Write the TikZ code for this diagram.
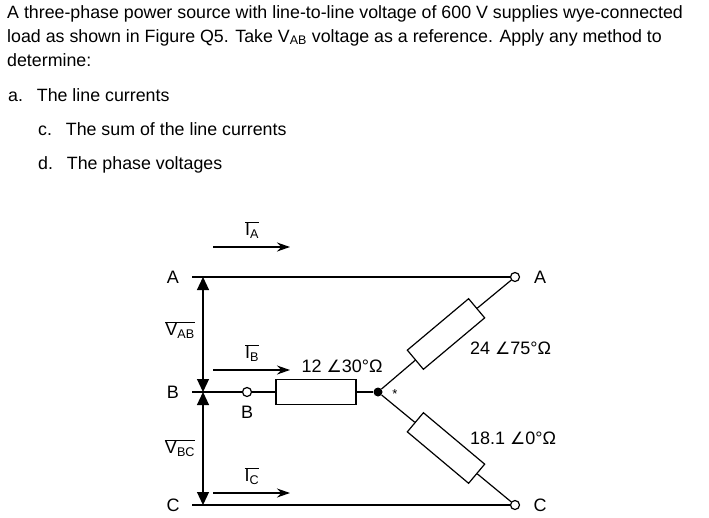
\documentclass[tikz,border=0pt]{standalone}
\usepackage{fontspec}
\setmainfont{Liberation Sans}
\newfontfamily\symfont{DejaVu Sans}
\usetikzlibrary{arrows.meta}
\newcommand{\phs}[2]{$\overline{\hbox{#1\textsubscript{#2}}}$}
\newcommand{\ang}{{\symfont\fontsize{17}{20}\selectfont ∠}}
\begin{document}
\begin{tikzpicture}[x=1pt,y=-1pt,
  txt/.style={anchor=base west,inner sep=0pt,font=\fontsize{17.8}{20}\selectfont},
  lbl/.style={inner sep=0pt,font=\fontsize{18}{20}\selectfont},
  res/.style={draw,line width=1.2pt,fill=white,minimum width=80pt,minimum height=25pt,inner sep=0pt},
  term/.style={circle,draw,line width=1.2pt,fill=white,inner sep=0pt,minimum size=9pt},
  cur/.style={-{Stealth[length=13pt,width=9pt]},line width=1.4pt},
  volt/.style={{Triangle[length=13pt,width=12pt]}-{Triangle[length=13pt,width=12pt]},line width=1.2pt}]
\useasboundingbox (0,0) rectangle (709,517);
% problem text
\node[txt] (t1) at (7,18) {A three-phase power source with line-to-line voltage of 600 V supplies wye-connected};
\node[txt] (t2) at (7,42) {load as shown in Figure Q5. Take V\textsubscript{AB} voltage as a reference. Apply any method to};
\node[txt] (t3) at (7,66) {determine:};
\node[txt] (qa) at (8,101) {a.\enspace\ The line currents};
\node[txt] (qc) at (38,135) {c.\enspace\ The sum of the line currents};
\node[txt] (qd) at (38,169) {d.\enspace\ The phase voltages};
% circuit
\coordinate (a0) at (192,277);
\coordinate (b0) at (192,392);
\coordinate (c0) at (192,505);
\coordinate (va) at (203,277);
\coordinate (vb) at (203,392);
\coordinate (vc) at (203,505);
\node[term] (tA) at (515,277) {};
\node[term] (tB) at (247,392) {};
\node[term] (tC) at (515,505) {};
\node[circle,fill,inner sep=0pt,minimum size=9pt] (n) at (378,392) {};
\node[res] (zB) at (316,392) {};
\node[res,rotate=40] (zA) at (446,334) {};
\node[res,rotate=-40] (zC) at (446,448) {};
\draw[line width=1.2pt] (a0) -- (tA);
\draw[line width=1.2pt] (c0) -- (tC);
\draw[line width=1.2pt] (b0) -- (tB) -- (zB) -- (n);
\draw[line width=1.2pt] (n) -- (zA) -- (tA);
\draw[line width=1.2pt] (n) -- (zC) -- (tC);
\draw[volt] (va) -- (vb);
\draw[volt] (vb) -- (vc);
\node[lbl] (lA) at (173,277) {A};
\node[lbl] (lB) at (173,392) {B};
\node[lbl] (lC) at (173,505) {C};
\node[lbl] (rA) at (540,277) {A};
\node[lbl] (rB) at (247,412) {B};
\node[lbl] (rC) at (540,505) {C};
\node[lbl,font=\fontsize{13}{14}\selectfont] (star) at (395,394) {*};
\node[lbl] (zBl) at (342,366) {12 \ang30°Ω};
\node[lbl,anchor=west] (zAl) at (470,348) {24 \ang75°Ω};
\node[lbl,anchor=west] (zCl) at (470,438) {18.1 \ang0°Ω};
\node[lbl] (vab) at (180,330) {\phs{V}{AB}};
\node[lbl] (vbc) at (180,448) {\phs{V}{BC}};
\coordinate (ia1) at (213,247); \coordinate (ia2) at (290,247);
\coordinate (ib1) at (213,370); \coordinate (ib2) at (290,370);
\coordinate (ic1) at (213,493); \coordinate (ic2) at (290,493);
\draw[cur] (ia1) -- (ia2);
\draw[cur] (ib1) -- (ib2);
\draw[cur] (ic1) -- (ic2);
\node[lbl] (iA) at (252,230) {\phs{I}{A}};
\node[lbl] (iB) at (252,353) {\phs{I}{B}};
\node[lbl] (iC) at (252,476) {\phs{I}{C}};
\end{tikzpicture}
\end{document}
